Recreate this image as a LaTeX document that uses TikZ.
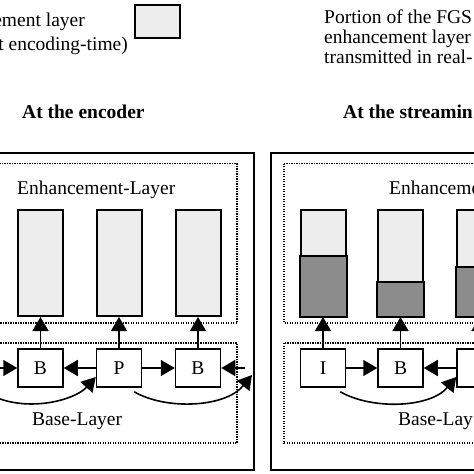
\documentclass[tikz,border=0pt]{standalone}
\usepackage{fontspec}
\setmainfont{Liberation Serif}
\usetikzlibrary{arrows.meta}

\tikzset{
  frame/.style={draw, line width=1.5pt, fill=white, minimum width=45pt, minimum height=38pt, inner sep=0pt},
  bar/.style={draw, line width=2pt, fill=black!7, minimum width=45pt, minimum height=106pt, inner sep=0pt},
  layer/.style={line width=1.5pt, dash pattern=on 1.4pt off 1.1pt},
  panel/.style={line width=2pt},
  dark/.style={fill=black!45},
  dep/.style={line width=1.6pt, -{Triangle[length=14pt,width=16pt]}},
  txt/.style={inner sep=0pt, anchor=base west},
}

\begin{document}
\begin{tikzpicture}[x=1pt,y=-1pt,font=\fontsize{19.5}{20}\selectfont]
\useasboundingbox (0,0) rectangle (474,474);
\clip (0,0) rectangle (474,474);

\draw[fill=black!7, line width=2pt] (135,5) rectangle (180,38);
\node[txt, anchor=base east] (legl1) at (85,26) {ement layer};
\node[txt, anchor=base east] (legl2) at (128,50) {t encoding-time)};
\node[txt] (legr1) at (324,23) {Portion of the FGS};
\node[txt] (legr2) at (324,43) {enhancement layer};
\node[txt] (legr3) at (324,63) {transmitted in real-};

\node[txt, font=\fontsize{19.5}{20}\selectfont\bfseries] (enc) at (22,118) {At the encoder};
\node[txt, font=\fontsize{19.5}{20}\selectfont\bfseries] (srv) at (343,118) {At the streamin};

\draw[panel] (-5,152.5) rectangle (254,470);
\draw[panel] (271,152.5) rectangle (480,470);
\draw[layer] (-5,163.5) rectangle (237,323);
\draw[layer] (-5,343) rectangle (237,443);
\draw[layer] (284,163.5) rectangle (480,323);
\draw[layer] (284,343) rectangle (480,443);

\node[txt] (enhl) at (17,194) {Enhancement-Layer};
\node[txt] (enhr) at (389,194) {Enhanceme};
\node[txt] (basel) at (32,425) {Base-Layer};
\node[txt] (baser) at (398,425) {Base-Lay};

\foreach \x [count=\k] in {40.5,119,198} {
  \node[bar] (el\k) at (\x,263) {};
}
\foreach \x/\h [count=\k] in {323/61,400.5/35,479.5/50} {
  \node[bar] (er\k) at (\x,263) {};
  \draw[dark, line width=2pt] (er\k.south west) rectangle ([yshift=\h pt]er\k.south east);
}

\node[frame] (bl1) at (40.5,368) {B};
\node[frame] (pl) at (119,368) {P};
\node[frame] (bl2) at (198,368) {B};
\node[frame] (ir) at (323,368) {I};
\node[frame] (br) at (400.5,368) {B};
\node[frame] (pr) at (479.5,368) {P};

\coordinate (inl) at (-5,368);
\coordinate (inr) at (245,368);
\coordinate (cin) at (-5,397);
\coordinate (cout) at (252,375);

\draw[dep] (bl1) -- (el1);
\draw[dep] (pl) -- (el2);
\draw[dep] (bl2) -- (el3);
\draw[dep] (ir) -- (er1);
\draw[dep] (br) -- (er2);
\draw[dep] (pr) -- (er3);

\draw[dep] (inl) -- (bl1);
\draw[dep] (pl) -- (bl1);
\draw[dep] (pl) -- (bl2);
\draw[dep] (inr) -- (bl2);
\draw[dep] (ir) -- (br);
\draw[dep] (pr) -- (br);

\draw[dep] (cin) .. controls (30,412) and (75,400) .. ([shift={(0,9)}]pl.west);
\draw[dep] ([shift={(-8,4)}]pl.south east) .. controls (165,410) and (225,408) .. (cout);
\draw[dep] ([shift={(-6,4)}]ir.south east) .. controls (372,410) and (430,408) .. ([shift={(0,9)}]pr.west);

\end{tikzpicture}
\end{document}
